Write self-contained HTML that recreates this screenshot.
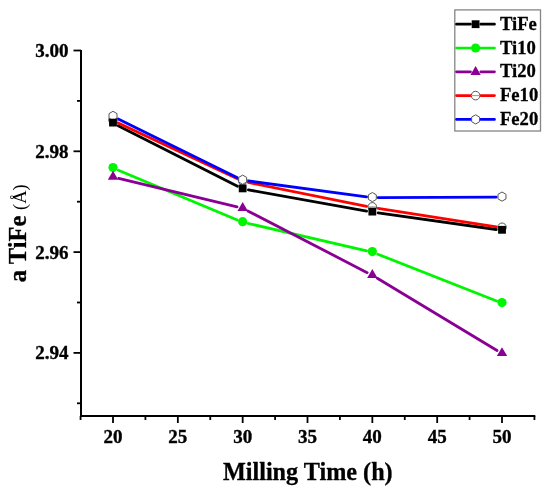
<!DOCTYPE html>
<html><head><meta charset="utf-8"><style>
html,body{margin:0;padding:0;background:#fff;}
svg{display:block;will-change:transform;}
</style></head><body>
<svg width="550" height="490" viewBox="0 0 550 490">
<rect width="550" height="490" fill="#fff"/>
<g stroke="#000" stroke-width="2" fill="none">
<path d="M81,50 V416.5"/>
<path d="M80,416 H535.3"/>
<path d="M73.5,50.50 H81" stroke-width="1.8"/>
<path d="M73.5,151.30 H81" stroke-width="1.8"/>
<path d="M73.5,252.10 H81" stroke-width="1.8"/>
<path d="M73.5,352.90 H81" stroke-width="1.8"/>
<path d="M77,100.90 H81" stroke-width="1.8"/>
<path d="M77,201.70 H81" stroke-width="1.8"/>
<path d="M77,302.50 H81" stroke-width="1.8"/>
<path d="M77,403.30 H81" stroke-width="1.8"/>
<path d="M113.00,416 V423" stroke-width="1.8"/>
<path d="M177.84,416 V423" stroke-width="1.8"/>
<path d="M242.67,416 V423" stroke-width="1.8"/>
<path d="M307.50,416 V423" stroke-width="1.8"/>
<path d="M372.34,416 V423" stroke-width="1.8"/>
<path d="M437.18,416 V423" stroke-width="1.8"/>
<path d="M502.01,416 V423" stroke-width="1.8"/>
<path d="M80.58,416 V420" stroke-width="1.8"/>
<path d="M145.42,416 V420" stroke-width="1.8"/>
<path d="M210.25,416 V420" stroke-width="1.8"/>
<path d="M275.09,416 V420" stroke-width="1.8"/>
<path d="M339.92,416 V420" stroke-width="1.8"/>
<path d="M404.76,416 V420" stroke-width="1.8"/>
<path d="M469.59,416 V420" stroke-width="1.8"/>
<path d="M534.43,416 V420" stroke-width="1.8"/>
</g>
<g font-family="Liberation Serif" font-weight="bold" font-size="19" fill="#000" stroke="#000" stroke-width="0.35">
<text x="68.6" y="57.00" text-anchor="end">3.00</text>
<text x="68.6" y="157.80" text-anchor="end">2.98</text>
<text x="68.6" y="258.60" text-anchor="end">2.96</text>
<text x="68.6" y="359.40" text-anchor="end">2.94</text>
<text x="113.00" y="443.4" text-anchor="middle">20</text>
<text x="177.84" y="443.4" text-anchor="middle">25</text>
<text x="242.67" y="443.4" text-anchor="middle">30</text>
<text x="307.50" y="443.4" text-anchor="middle">35</text>
<text x="372.34" y="443.4" text-anchor="middle">40</text>
<text x="437.18" y="443.4" text-anchor="middle">45</text>
<text x="502.01" y="443.4" text-anchor="middle">50</text>
</g>
<text x="307.8" y="479.5" text-anchor="middle" font-family="Liberation Serif" font-weight="bold" font-size="24.2" stroke="#000" stroke-width="0.3">Milling Time (h)</text>
<text transform="translate(25.8,233.2) rotate(-90)" text-anchor="middle" font-family="Liberation Serif"><tspan font-weight="bold" font-size="24.5" stroke="#000" stroke-width="0.3">a TiFe</tspan><tspan font-size="18.5" dx="1.2"> (Å)</tspan></text>
<line x1="118.17" y1="125.72" x2="237.50" y2="186.28" stroke="#000000" stroke-width="2.8" stroke-linecap="round"/>
<line x1="248.38" y1="189.92" x2="366.63" y2="211.08" stroke="#000000" stroke-width="2.8" stroke-linecap="round"/>
<line x1="378.08" y1="212.91" x2="496.27" y2="229.49" stroke="#000000" stroke-width="2.8" stroke-linecap="round"/>
<line x1="118.35" y1="170.24" x2="237.32" y2="219.96" stroke="#00f500" stroke-width="2.8" stroke-linecap="round"/>
<line x1="248.32" y1="223.50" x2="366.69" y2="250.80" stroke="#00f500" stroke-width="2.8" stroke-linecap="round"/>
<line x1="377.74" y1="254.22" x2="496.61" y2="300.98" stroke="#00f500" stroke-width="2.8" stroke-linecap="round"/>
<line x1="118.64" y1="178.46" x2="237.03" y2="206.94" stroke="#8a0094" stroke-width="2.8" stroke-linecap="round"/>
<line x1="247.82" y1="210.96" x2="367.19" y2="272.64" stroke="#8a0094" stroke-width="2.8" stroke-linecap="round"/>
<line x1="377.31" y1="278.30" x2="497.04" y2="350.50" stroke="#8a0094" stroke-width="2.8" stroke-linecap="round"/>
<line x1="118.25" y1="122.96" x2="237.42" y2="178.84" stroke="#ff0000" stroke-width="2.8" stroke-linecap="round"/>
<line x1="248.36" y1="182.44" x2="366.65" y2="206.26" stroke="#ff0000" stroke-width="2.8" stroke-linecap="round"/>
<line x1="378.07" y1="208.30" x2="496.28" y2="226.90" stroke="#ff0000" stroke-width="2.8" stroke-linecap="round"/>
<line x1="118.20" y1="118.96" x2="237.47" y2="177.64" stroke="#0000ff" stroke-width="2.8" stroke-linecap="round"/>
<line x1="248.42" y1="180.97" x2="366.59" y2="196.83" stroke="#0000ff" stroke-width="2.8" stroke-linecap="round"/>
<line x1="378.14" y1="197.58" x2="496.21" y2="197.12" stroke="#0000ff" stroke-width="2.8" stroke-linecap="round"/>
<circle cx="113.00" cy="167.50" r="4.6" fill="#00f500"/>
<circle cx="242.67" cy="221.70" r="4.6" fill="#00f500"/>
<circle cx="372.34" cy="251.60" r="4.6" fill="#00f500"/>
<circle cx="502.01" cy="302.60" r="4.6" fill="#00f500"/>
<polygon points="113.00,170.80 118.20,179.70 107.80,179.70" fill="#8a0094"/>
<polygon points="242.67,202.00 247.87,210.90 237.47,210.90" fill="#8a0094"/>
<polygon points="372.34,269.00 377.54,277.90 367.14,277.90" fill="#8a0094"/>
<polygon points="502.01,347.20 507.21,356.10 496.81,356.10" fill="#8a0094"/>
<circle cx="113.00" cy="120.00" r="4.3" fill="#fff" stroke="#555" stroke-width="1"/><path d="M109.00,120.00 H117.00" stroke="#999" stroke-width="1"/>
<circle cx="242.67" cy="180.80" r="4.3" fill="#fff" stroke="#555" stroke-width="1"/><path d="M238.67,180.80 H246.67" stroke="#999" stroke-width="1"/>
<circle cx="372.34" cy="206.90" r="4.3" fill="#fff" stroke="#555" stroke-width="1"/><path d="M368.34,206.90 H376.34" stroke="#999" stroke-width="1"/>
<circle cx="502.01" cy="227.30" r="4.3" fill="#fff" stroke="#555" stroke-width="1"/><path d="M498.01,227.30 H506.01" stroke="#999" stroke-width="1"/>
<polygon points="113.00,111.30 116.98,113.60 116.98,118.20 113.00,120.50 109.02,118.20 109.02,113.60" fill="#fff" stroke="#555" stroke-width="1"/>
<polygon points="242.67,175.10 246.65,177.40 246.65,182.00 242.67,184.30 238.69,182.00 238.69,177.40" fill="#fff" stroke="#555" stroke-width="1"/>
<polygon points="372.34,192.50 376.32,194.80 376.32,199.40 372.34,201.70 368.36,199.40 368.36,194.80" fill="#fff" stroke="#555" stroke-width="1"/>
<polygon points="502.01,192.00 505.99,194.30 505.99,198.90 502.01,201.20 498.03,198.90 498.03,194.30" fill="#fff" stroke="#555" stroke-width="1"/>
<rect x="109.10" y="118.70" width="7.8" height="7.8" fill="#000"/>
<rect x="238.77" y="184.50" width="7.8" height="7.8" fill="#000"/>
<rect x="368.44" y="207.70" width="7.8" height="7.8" fill="#000"/>
<rect x="498.11" y="225.90" width="7.8" height="7.8" fill="#000"/>
<rect x="454.8" y="9.9" width="85.7" height="121.1" fill="#fff" stroke="#858585" stroke-width="1.3"/>
<path d="M456.5,24.2 H470.5 M480.8,24.2 H494.5" stroke="#000000" stroke-width="2.7" stroke-linecap="round"/>
<rect x="471.70" y="20.30" width="7.8" height="7.8" fill="#000"/>
<text x="500" y="29.80" font-family="Liberation Serif" font-weight="bold" font-size="18.6" stroke="#000" stroke-width="0.3">TiFe</text>
<path d="M456.5,48.0 H470.5 M480.8,48.0 H494.5" stroke="#00f500" stroke-width="2.7" stroke-linecap="round"/>
<circle cx="475.60" cy="48.00" r="4.6" fill="#00f500"/>
<text x="500" y="53.60" font-family="Liberation Serif" font-weight="bold" font-size="18.6" stroke="#000" stroke-width="0.3">Ti10</text>
<path d="M456.5,71.8 H470.5 M480.8,71.8 H494.5" stroke="#8a0094" stroke-width="2.7" stroke-linecap="round"/>
<polygon points="475.60,66.00 480.80,74.90 470.40,74.90" fill="#8a0094"/>
<text x="500" y="77.40" font-family="Liberation Serif" font-weight="bold" font-size="18.6" stroke="#000" stroke-width="0.3">Ti20</text>
<path d="M456.5,95.6 H470.5 M480.8,95.6 H494.5" stroke="#ff0000" stroke-width="2.7" stroke-linecap="round"/>
<circle cx="475.60" cy="95.60" r="4.3" fill="#fff" stroke="#555" stroke-width="1"/><path d="M471.60,95.60 H479.60" stroke="#999" stroke-width="1"/>
<text x="500" y="101.20" font-family="Liberation Serif" font-weight="bold" font-size="18.6" stroke="#000" stroke-width="0.3">Fe10</text>
<path d="M456.5,119.4 H470.5 M480.8,119.4 H494.5" stroke="#0000ff" stroke-width="2.7" stroke-linecap="round"/>
<polygon points="475.60,114.80 479.58,117.10 479.58,121.70 475.60,124.00 471.62,121.70 471.62,117.10" fill="#fff" stroke="#555" stroke-width="1"/>
<text x="500" y="125.00" font-family="Liberation Serif" font-weight="bold" font-size="18.6" stroke="#000" stroke-width="0.3">Fe20</text>
</svg>
</body></html>
